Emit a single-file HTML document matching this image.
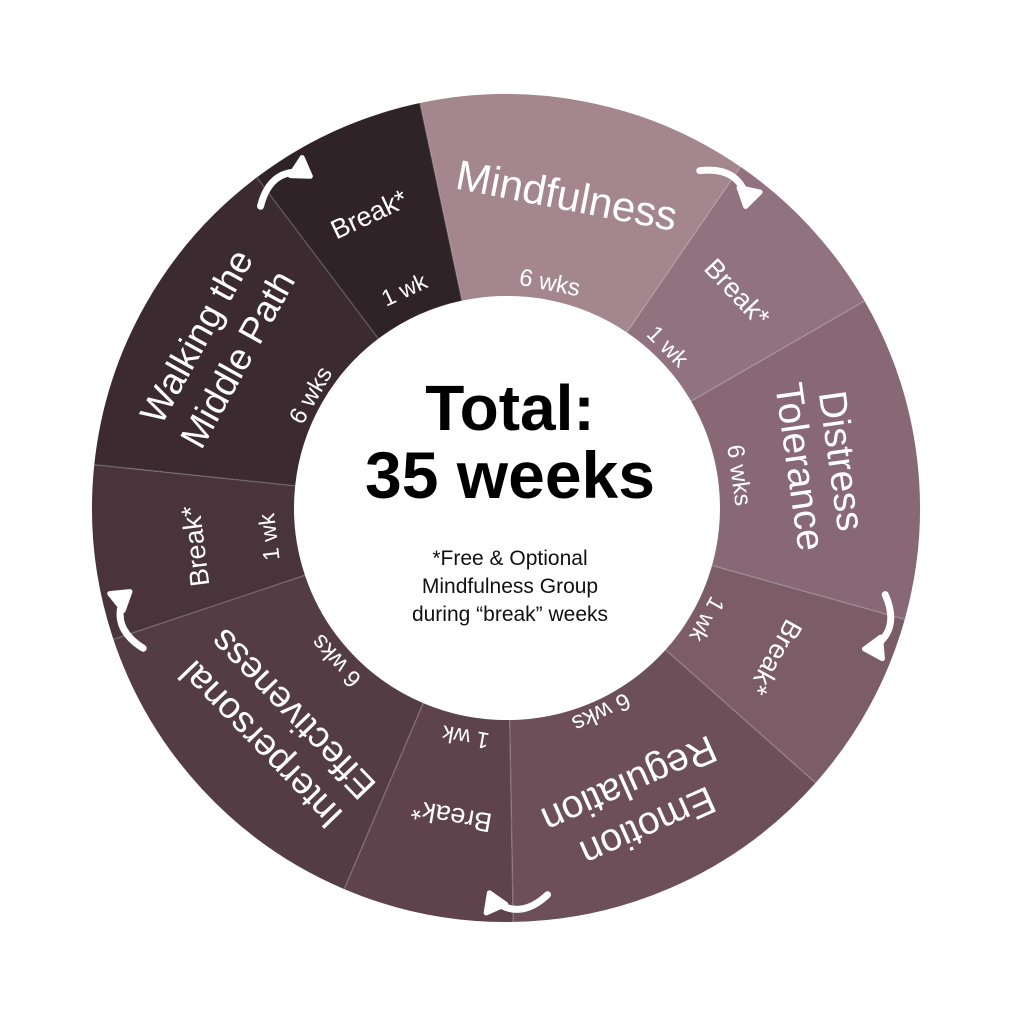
<!DOCTYPE html>
<html><head><meta charset="utf-8"><style>
html,body{margin:0;padding:0;background:#fff;}
svg{display:block;}
text{font-family:"Liberation Sans",sans-serif;fill:#fff;}
</style></head><body>
<svg width="1024" height="1024" viewBox="0 0 1024 1024">
<g fill="none" stroke-width="202">
<circle cx="506" cy="508" r="313" stroke="#a3868e" stroke-dasharray="254.0 2000" transform="rotate(258 506 508)"/>
<circle cx="506" cy="508" r="313" stroke="#917380" stroke-dasharray="139.3 2000" transform="rotate(-55.5 506 508)"/>
<circle cx="506" cy="508" r="313" stroke="#876874" stroke-dasharray="249.1 2000" transform="rotate(-30 506 508)"/>
<circle cx="506" cy="508" r="313" stroke="#7b5c67" stroke-dasharray="142.0 2000" transform="rotate(15.6 506 508)"/>
<circle cx="506" cy="508" r="313" stroke="#6c4f59" stroke-dasharray="258.9 2000" transform="rotate(41.6 506 508)"/>
<circle cx="506" cy="508" r="313" stroke="#5e434c" stroke-dasharray="131.1 2000" transform="rotate(89 506 508)"/>
<circle cx="506" cy="508" r="313" stroke="#543c44" stroke-dasharray="265.0 2000" transform="rotate(113 506 508)"/>
<circle cx="506" cy="508" r="313" stroke="#4a343b" stroke-dasharray="133.8 2000" transform="rotate(161.5 506 508)"/>
<circle cx="506" cy="508" r="313" stroke="#3b2b31" stroke-dasharray="256.8 2000" transform="rotate(186 506 508)"/>
<circle cx="506" cy="508" r="313" stroke="#2f2327" stroke-dasharray="136.6 2000" transform="rotate(233 506 508)"/>
</g>
<g stroke="rgba(255,255,255,0.18)" stroke-width="1.5">
<line x1="506" y1="296" x2="506" y2="94" transform="rotate(348 506 508)"/>
<line x1="506" y1="296" x2="506" y2="94" transform="rotate(34.5 506 508)"/>
<line x1="506" y1="296" x2="506" y2="94" transform="rotate(60 506 508)"/>
<line x1="506" y1="296" x2="506" y2="94" transform="rotate(105.6 506 508)"/>
<line x1="506" y1="296" x2="506" y2="94" transform="rotate(131.6 506 508)"/>
<line x1="506" y1="296" x2="506" y2="94" transform="rotate(179 506 508)"/>
<line x1="506" y1="296" x2="506" y2="94" transform="rotate(203 506 508)"/>
<line x1="506" y1="296" x2="506" y2="94" transform="rotate(251.5 506 508)"/>
<line x1="506" y1="296" x2="506" y2="94" transform="rotate(276 506 508)"/>
<line x1="506" y1="296" x2="506" y2="94" transform="rotate(323 506 508)"/>
</g>
<circle cx="508" cy="508" r="212" fill="#fff"/>

<g text-anchor="middle" dominant-baseline="middle">
<text x="506" y="193" font-size="42" transform="rotate(11 506 508)">Mindfulness</text>
<text x="506" y="280" font-size="24" transform="rotate(11 506 508)">6 wks</text>
<text x="506" y="194" font-size="27" transform="rotate(47 506 508)">Break*</text>
<text x="506" y="281" font-size="23" transform="rotate(45 506 508)">1 wk</text>
<text x="506" y="172" font-size="39" transform="rotate(82 506 508)">Distress</text>
<text x="506" y="214" font-size="39" transform="rotate(82 506 508)">Tolerance</text>
<text x="506" y="274" font-size="24" transform="rotate(82 506 508)">6 wks</text>
<text x="506" y="202" font-size="27" transform="rotate(119 506 508)">Break*</text>
<text x="506" y="280" font-size="23" transform="rotate(119 506 508)">1 wk</text>
<text x="506" y="162" font-size="39" transform="rotate(156 506 508)">Emotion</text>
<text x="506" y="208" font-size="39" transform="rotate(156 506 508)">Regulation</text>
<text x="506" y="284" font-size="24" transform="rotate(155 506 508)">6 wks</text>
<text x="506" y="197" font-size="27" transform="rotate(190 506 508)">Break*</text>
<text x="506" y="277" font-size="23" transform="rotate(190 506 508)">1 wk</text>
<text x="506" y="170" font-size="37" transform="rotate(226 506 508)">Interpersonal</text>
<text x="506" y="214" font-size="37" transform="rotate(226 506 508)">Effectiveness</text>
<text x="506" y="281" font-size="24" transform="rotate(228 506 508)">6 wks</text>
<text x="506" y="197" font-size="27" transform="rotate(263 506 508)">Break*</text>
<text x="506" y="271" font-size="23" transform="rotate(263 506 508)">1 wk</text>
<text x="506" y="157" font-size="37" transform="rotate(299 506 508)">Walking the</text>
<text x="506" y="204" font-size="37" transform="rotate(299 506 508)">Middle Path</text>
<text x="506" y="284" font-size="24" transform="rotate(300 506 508)">6 wks</text>
<text x="506" y="186" font-size="27" transform="rotate(335 506 508)">Break*</text>
<text x="506" y="269" font-size="23" transform="rotate(335 506 508)">1 wk</text>
</g>

<g fill="none" stroke="#fff" stroke-width="7" stroke-linecap="round">
<g transform="rotate(34 506 508)"><path d="M478 120 Q508 94 534 118"/><path d="M520 112 L536 124 L540 104 Z" stroke-width="5" fill="#fff" stroke-linejoin="round"/></g>
<g transform="rotate(107 506 508)"><path d="M478 120 Q508 94 534 118"/><path d="M520 112 L536 124 L540 104 Z" stroke-width="5" fill="#fff" stroke-linejoin="round"/></g>
<g transform="rotate(178 506 508)"><path d="M478 120 Q508 94 534 118"/><path d="M520 112 L536 124 L540 104 Z" stroke-width="5" fill="#fff" stroke-linejoin="round"/></g>
<g transform="rotate(253 506 508)"><path d="M478 120 Q508 94 534 118"/><path d="M520 112 L536 124 L540 104 Z" stroke-width="5" fill="#fff" stroke-linejoin="round"/></g>
<g transform="rotate(325 506 508)"><path d="M478 120 Q508 94 534 118"/><path d="M520 112 L536 124 L540 104 Z" stroke-width="5" fill="#fff" stroke-linejoin="round"/></g>
</g>

<g text-anchor="middle">
<text x="510" y="430" font-size="64" font-weight="bold" style="fill:#000">Total:</text>
<text x="510" y="498" font-size="66" font-weight="bold" style="fill:#000">35 weeks</text>
<text x="510" y="565" font-size="21" style="fill:#111">*Free &amp; Optional</text>
<text x="510" y="593" font-size="21" style="fill:#111">Mindfulness Group</text>
<text x="510" y="621" font-size="21" style="fill:#111">during “break” weeks</text>
</g>
</svg>
</body></html>
